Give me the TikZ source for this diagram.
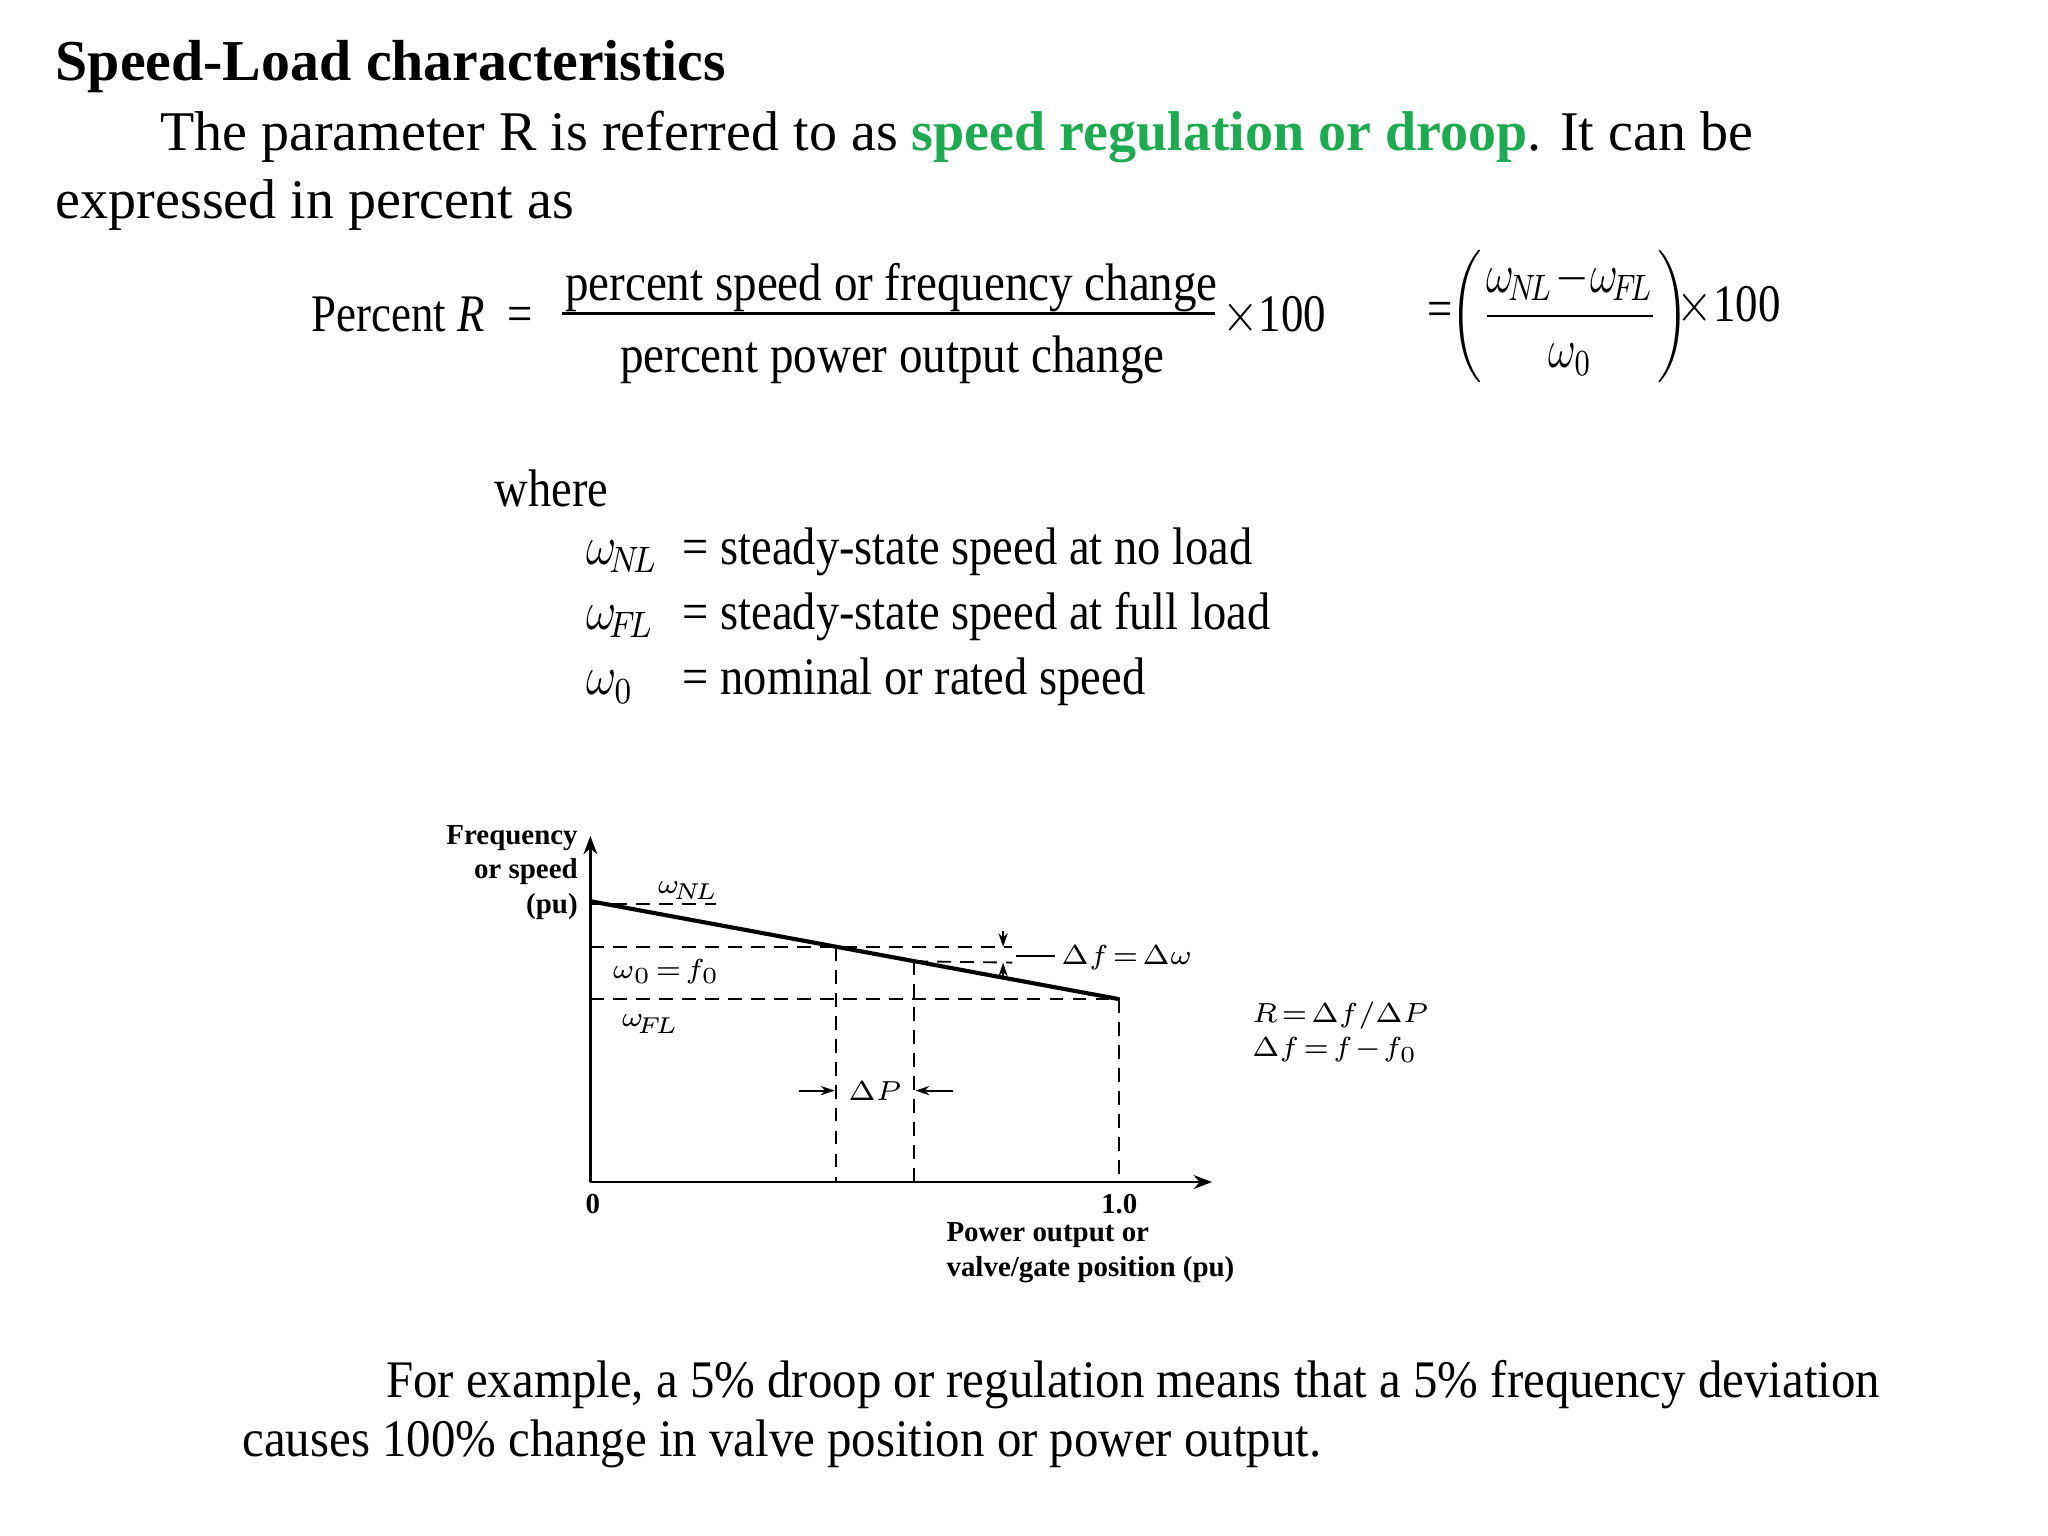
\documentclass[tikz,border=0pt]{standalone}
\usepackage{amsmath}
\usepackage{fontspec}
\setmainfont{Liberation Serif}
\usetikzlibrary{arrows.meta}
\definecolor{grn}{RGB}{30,170,80}
\begin{document}
\begin{tikzpicture}[x=0.01cm,y=-0.01cm,
  txt/.style={inner sep=0pt,anchor=base west,font=\fontsize{12.2}{14}\selectfont},
  fml/.style={inner sep=0pt,anchor=base west,font=\fontsize{11.5}{13}\selectfont},
  gl/.style={inner sep=0pt,font=\fontsize{6.3}{7.5}\selectfont},
  dsh/.style={densely dashed,line width=0.4pt},
  ax/.style={line width=0.6pt,-{Stealth[length=4pt,width=3pt]}},
  sm/.style={line width=0.4pt,-{Stealth[length=3pt,width=2pt]}}]
\useasboundingbox[fill=white] (0,0) rectangle (1568,1176);
\node[txt,font=\fontsize{12.6}{14}\selectfont\bfseries] (title) at (42,62) {Speed-Load characteristics};
\node[txt] (l2) at (122,115) {The parameter R is referred to as \textcolor{grn}{\textbf{speed regulation or droop}}. It can be};
\node[txt] (l3) at (42,167) {expressed in percent as};
% formula
\node[fml] (pr) at (238,254) {\scalebox{0.85}[1]{Percent \textit{R}\enspace=}};
\node[fml] (num) at (432,230) {\scalebox{0.89}[1]{percent speed or frequency change}};
\node[fml] (den) at (474,285) {\scalebox{0.89}[1]{percent power output change}};
\draw[line width=0.5pt] (430,240) coordinate (b1) -- (930,240) coordinate (b2);
\node[fml] (x1) at (935,254) {\scalebox{0.85}[1]{$\times$100}};
\node[fml] (eq2) at (1092,250) {\scalebox{0.85}[1]{=}};
\node[inner sep=0pt] (frac2) at (1202,242) {\fontsize{11.5}{13}\selectfont\scalebox{0.78}[1]{$\left(\dfrac{\omega_{\!N\!L}\!-\!\omega_{\!F\!L}}{\omega_0}\right)$}};
\node[fml] (x2) at (1283,246) {\scalebox{0.85}[1]{$\times$100}};
% where
\node[fml] (wh) at (378,388) {\scalebox{0.88}[1]{where}};
\node[fml] (w1) at (448,432) {\scalebox{0.85}[1]{$\omega_{\!N\!L}$}};
\node[fml] (d1) at (522,432) {\scalebox{0.88}[1]{= steady-state speed at no load}};
\node[fml] (w2) at (448,482) {\scalebox{0.85}[1]{$\omega_{\!F\!L}$}};
\node[fml] (d2) at (522,482) {\scalebox{0.88}[1]{= steady-state speed at full load}};
\node[fml] (w3) at (448,532) {\scalebox{0.85}[1]{$\omega_{0}$}};
\node[fml] (d3) at (522,532) {\scalebox{0.88}[1]{= nominal or rated speed}};
% graph
\coordinate (o) at (452,905);
\coordinate (ytop) at (452,640);
\coordinate (xend) at (928,905);
\draw[ax] (o) -- (ytop);
\draw[ax] (o) -- (xend);
\coordinate (nl) at (452,690);
\coordinate (fl) at (857,765);
\draw[line width=0.9pt] (nl) -- (fl);
\coordinate (p1) at (640,725);
\coordinate (p2) at (700,736);
\draw[dsh] (452,692) -- (548,692);
\draw[dsh] (452,725) -- (p1) -- (775,725);
\draw[dsh] (p2) -- (775,737);
\draw[dsh] (452,765) -- (fl);
\draw[dsh] (p1) -- (640,905);
\draw[dsh] (p2) -- (700,905);
\draw[dsh] (fl) -- (857,905);
\draw[sm] (768,713) -- (768,725);
\draw[sm] (768,749) -- (768,737);
\draw[line width=0.4pt] (778,732) -- (808,732);
\node[gl,anchor=west] (df) at (812,733) {$\Delta f\!=\!\Delta\omega$};
\draw[sm] (612,835) -- (639,835);
\draw[sm] (730,835) -- (701,835);
\node[gl] (dp) at (670,835) {$\Delta P$};
\node[gl,anchor=east,align=right] (ylab) at (443,668) {\textbf{Frequency}\\ \textbf{or speed}\\ \textbf{(pu)}};
\node[gl] (lnl) at (527,682) {$\omega_{\!N\!L}$};
\node[gl] (l0) at (510,744) {$\omega_0\!=\!f_0$};
\node[gl] (lfl) at (498,784) {$\omega_{\!F\!L}$};
\node[gl] (z) at (454,922) {\textbf{0}};
\node[gl] (one) at (857,922) {\textbf{1.0}};
\node[gl,anchor=west,align=left] (xlab) at (724,959) {\textbf{Power output or}\\ \textbf{valve/gate position (pu)}};
\node[gl,anchor=west,align=left] (rr) at (958,790) {$R\!=\!\Delta f/\Delta P$\\ $\Delta f\!=\!f\!-\!f_0$};
% bottom
\node[fml] (b1t) at (295,1070) {\scalebox{0.925}[1]{For example, a 5\% droop or regulation means that a 5\% frequency deviation}};
\node[fml] (b2t) at (185,1115) {\scalebox{0.925}[1]{causes 100\% change in valve position or power output.}};
\end{tikzpicture}
\end{document}
